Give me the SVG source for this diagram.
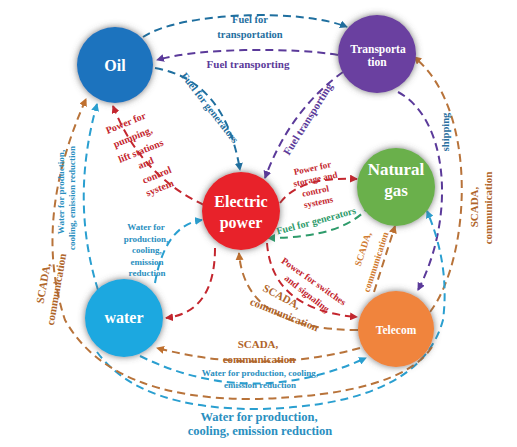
<svg xmlns="http://www.w3.org/2000/svg" width="517" height="447" viewBox="0 0 517 447">
<style>
.c{fill:none;stroke-width:2;stroke-dasharray:8 5}
.nt{font-family:"Liberation Serif",serif;font-weight:bold;fill:#fff;text-anchor:middle}
.l{font-family:"Liberation Serif",serif;font-weight:bold;text-anchor:middle}
.bl{stroke:#1f6f9f}.pu{stroke:#5b3a9a}.rd{stroke:#c4262e}.gr{stroke:#2e9b6b}.or{stroke:#b8733a}.lb{stroke:#2a9fd0}
</style>
<defs>
<filter id="sh" x="-30%" y="-30%" width="160%" height="160%"><feDropShadow dx="0" dy="0" stdDeviation="3.5" flood-color="#555" flood-opacity="0.8"/></filter>
<marker id="aBl" markerWidth="8" markerHeight="8" refX="7" refY="4" orient="auto" markerUnits="userSpaceOnUse"><path d="M0,0 L8,4 L0,8 z" fill="#1f6f9f"/></marker>
<marker id="aPu" markerWidth="8" markerHeight="8" refX="7" refY="4" orient="auto" markerUnits="userSpaceOnUse"><path d="M0,0 L8,4 L0,8 z" fill="#5b3a9a"/></marker>
<marker id="aRd" markerWidth="8" markerHeight="8" refX="7" refY="4" orient="auto" markerUnits="userSpaceOnUse"><path d="M0,0 L8,4 L0,8 z" fill="#c4262e"/></marker>
<marker id="aGr" markerWidth="8" markerHeight="8" refX="7" refY="4" orient="auto" markerUnits="userSpaceOnUse"><path d="M0,0 L8,4 L0,8 z" fill="#2e9b6b"/></marker>
<marker id="aOr" markerWidth="8" markerHeight="8" refX="7" refY="4" orient="auto" markerUnits="userSpaceOnUse"><path d="M0,0 L8,4 L0,8 z" fill="#c0702e"/></marker>
<marker id="aLb" markerWidth="8" markerHeight="8" refX="7" refY="4" orient="auto" markerUnits="userSpaceOnUse"><path d="M0,0 L8,4 L0,8 z" fill="#2a9fd0"/></marker>
</defs>
<rect width="517" height="447" fill="#fff"/>

<g id="connectors">
<path class="c bl" d="M143,37 C180,12 300,8 347,27" marker-end="url(#aBl)"/>
<path class="c pu" d="M338,55 C300,48 200,47 157,60" marker-end="url(#aPu)"/>
<path class="c bl" d="M155,68 Q225,80 240,170" marker-end="url(#aBl)"/>
<path class="c pu" d="M343,72 Q290,110 265,178" marker-end="url(#aPu)"/>
<path class="c rd" d="M204,205 Q140,175 113,106" marker-end="url(#aRd)"/>
<path class="c rd" d="M280,203 Q300,176 357,179" marker-end="url(#aRd)"/>
<path class="c gr" d="M370,205 Q345,238 268,238" marker-end="url(#aGr)"/>
<path class="c lb" d="M155,283 Q165,225 202,220" marker-end="url(#aLb)"/>
<path class="c rd" d="M215,248 Q215,312 166,318" marker-end="url(#aRd)"/>
<path class="c or" d="M358,330 Q245,330 239,253" marker-end="url(#aOr)"/>
<path class="c rd" d="M267,243 Q272,310 357,317" marker-end="url(#aRd)"/>
<path class="c or" d="M374,292 L395,226" marker-end="url(#aOr)"/>
<path class="c pu" d="M398,92 C450,120 455,220 418,290" marker-end="url(#aPu)"/>
<path class="c or" d="M430,312 C470,260 480,110 414,57" marker-end="url(#aOr)"/>
<path class="c lb" d="M97,352 Q140,410 260,409 Q420,405 443,320 Q450,265 427,211" marker-end="url(#aLb)"/>
<path class="c or" d="M432,347 Q400,395 255,399 Q110,400 65,320 Q32,220 86,99" marker-end="url(#aOr)"/>
<path class="c lb" d="M98,290 Q70,200 97,104" marker-end="url(#aLb)"/>
<path class="c lb" d="M140,356 Q250,410 366,358" marker-end="url(#aLb)"/>
<path class="c or" d="M360,348 Q260,375 157,348" marker-end="url(#aOr)"/>
</g>

<g id="labels">
<text class="l" fill="#1f6f9f" font-size="10.5" x="250" y="23">Fuel for</text>
<text class="l" fill="#1f6f9f" font-size="10.5" x="250" y="38">transportation</text>
<text class="l" fill="#5b3a9a" font-size="11" x="248" y="68">Fuel transporting</text>
<text class="l" fill="#1f6f9f" font-size="10.5" transform="translate(207,110) rotate(52)">Fuel for generators</text>
<text class="l" fill="#5b3a9a" font-size="11" transform="translate(311,121) rotate(-58)">Fuel transporting</text>
<g class="l" fill="#c4262e" font-size="10">
<text transform="translate(127,126) rotate(-22)">Power for</text>
<text transform="translate(134,140) rotate(-22)">pumping,</text>
<text transform="translate(142,154) rotate(-22)">lift stations</text>
<text transform="translate(147,166) rotate(-22)">and</text>
<text transform="translate(158,178) rotate(-22)">control</text>
<text transform="translate(161,191) rotate(-22)">system</text>
</g>
<g class="l" fill="#c4262e" font-size="9">
<text transform="translate(313,171) rotate(-12)">Power for</text>
<text transform="translate(316,182) rotate(-12)">storage and</text>
<text transform="translate(316,194) rotate(-12)">control</text>
<text transform="translate(319,205) rotate(-12)">systems</text>
</g>
<text class="l" fill="#2e9b6b" font-size="10" transform="translate(317,224) rotate(-15)">Fuel for generators</text>
<g class="l" fill="#2a8fc0" font-size="9">
<text x="146" y="230">Water for</text>
<text x="146" y="242">production,</text>
<text x="147" y="253">cooling,</text>
<text x="147" y="265">emission</text>
<text x="147" y="276">reduction</text>
</g>
<g class="l" fill="#c4262e" font-size="9.5">
<text transform="translate(312,284) rotate(35)">Power for switches</text>
<text transform="translate(305,296) rotate(38)">and signaling</text>
</g>
<g class="l" fill="#b0652a" font-size="11">
<text transform="translate(280,300) rotate(28)">SCADA,</text>
<text transform="translate(283,318) rotate(22)">communication</text>
</g>
<g class="l" fill="#d07a30" font-size="9.5">
<text transform="translate(366,250) rotate(-72)">SCADA,</text>
<text transform="translate(379,263) rotate(-72)">communication</text>
</g>
<text class="l" fill="#2a6f9e" font-size="10.5" transform="translate(449,132) rotate(-90)">shipping</text>
<g class="l" fill="#b0652a" font-size="11">
<text transform="translate(478,207) rotate(-90)">SCADA,</text>
<text transform="translate(492,208) rotate(-90)">communication</text>
</g>
<g class="l" fill="#2a8fc0" font-size="9">
<text transform="translate(64,192) rotate(-90)">Water for production,</text>
<text transform="translate(75,198) rotate(-90)">cooling, emission reduction</text>
</g>
<g class="l" fill="#b0652a" font-size="11">
<text transform="translate(47,284) rotate(-80)">SCADA,</text>
<text transform="translate(60,290) rotate(-80)">communication</text>
</g>
<g class="l" fill="#b0652a" font-size="11">
<text x="258" y="348">SCADA,</text>
<text x="259" y="363">communication</text>
</g>
<g class="l" fill="#2a8fc0" font-size="9">
<text x="260" y="376">Water for production, cooling,</text>
<text x="260" y="388">emission reduction</text>
</g>
<g class="l" fill="#2a8fc0" font-size="12.5">
<text x="259" y="421">Water for production,</text>
<text x="260" y="435">cooling, emission reduction</text>
</g>
</g>

<g id="oil"><circle cx="115" cy="65" r="38" fill="#1e73be" filter="url(#sh)"/><text class="nt" font-size="16" x="115" y="71">Oil</text></g>
<g id="transportation"><circle cx="377" cy="54" r="39" fill="#6b3fa0" filter="url(#sh)"/><text class="nt" font-size="11.5" x="378" y="53">Transporta</text><text class="nt" font-size="11.5" x="377" y="66">tion</text></g>
<g id="natural-gas"><circle cx="396" cy="187" r="39" fill="#6ab04c" filter="url(#sh)"/><text class="nt" font-size="17" x="396" y="175">Natural</text><text class="nt" font-size="17" x="396" y="196">gas</text></g>
<g id="electric-power"><circle cx="241" cy="211" r="39" fill="#e8232a" filter="url(#sh)"/><text class="nt" font-size="16" x="241" y="207">Electric</text><text class="nt" font-size="16" x="241" y="228">power</text></g>
<g id="water"><circle cx="124" cy="318" r="39" fill="#1da8e0" filter="url(#sh)"/><text class="nt" font-size="16" x="124" y="323">water</text></g>
<g id="telecom"><circle cx="396" cy="329" r="38" fill="#f0843c" filter="url(#sh)"/><text class="nt" font-size="11.5" x="396" y="334">Telecom</text></g>
</svg>
